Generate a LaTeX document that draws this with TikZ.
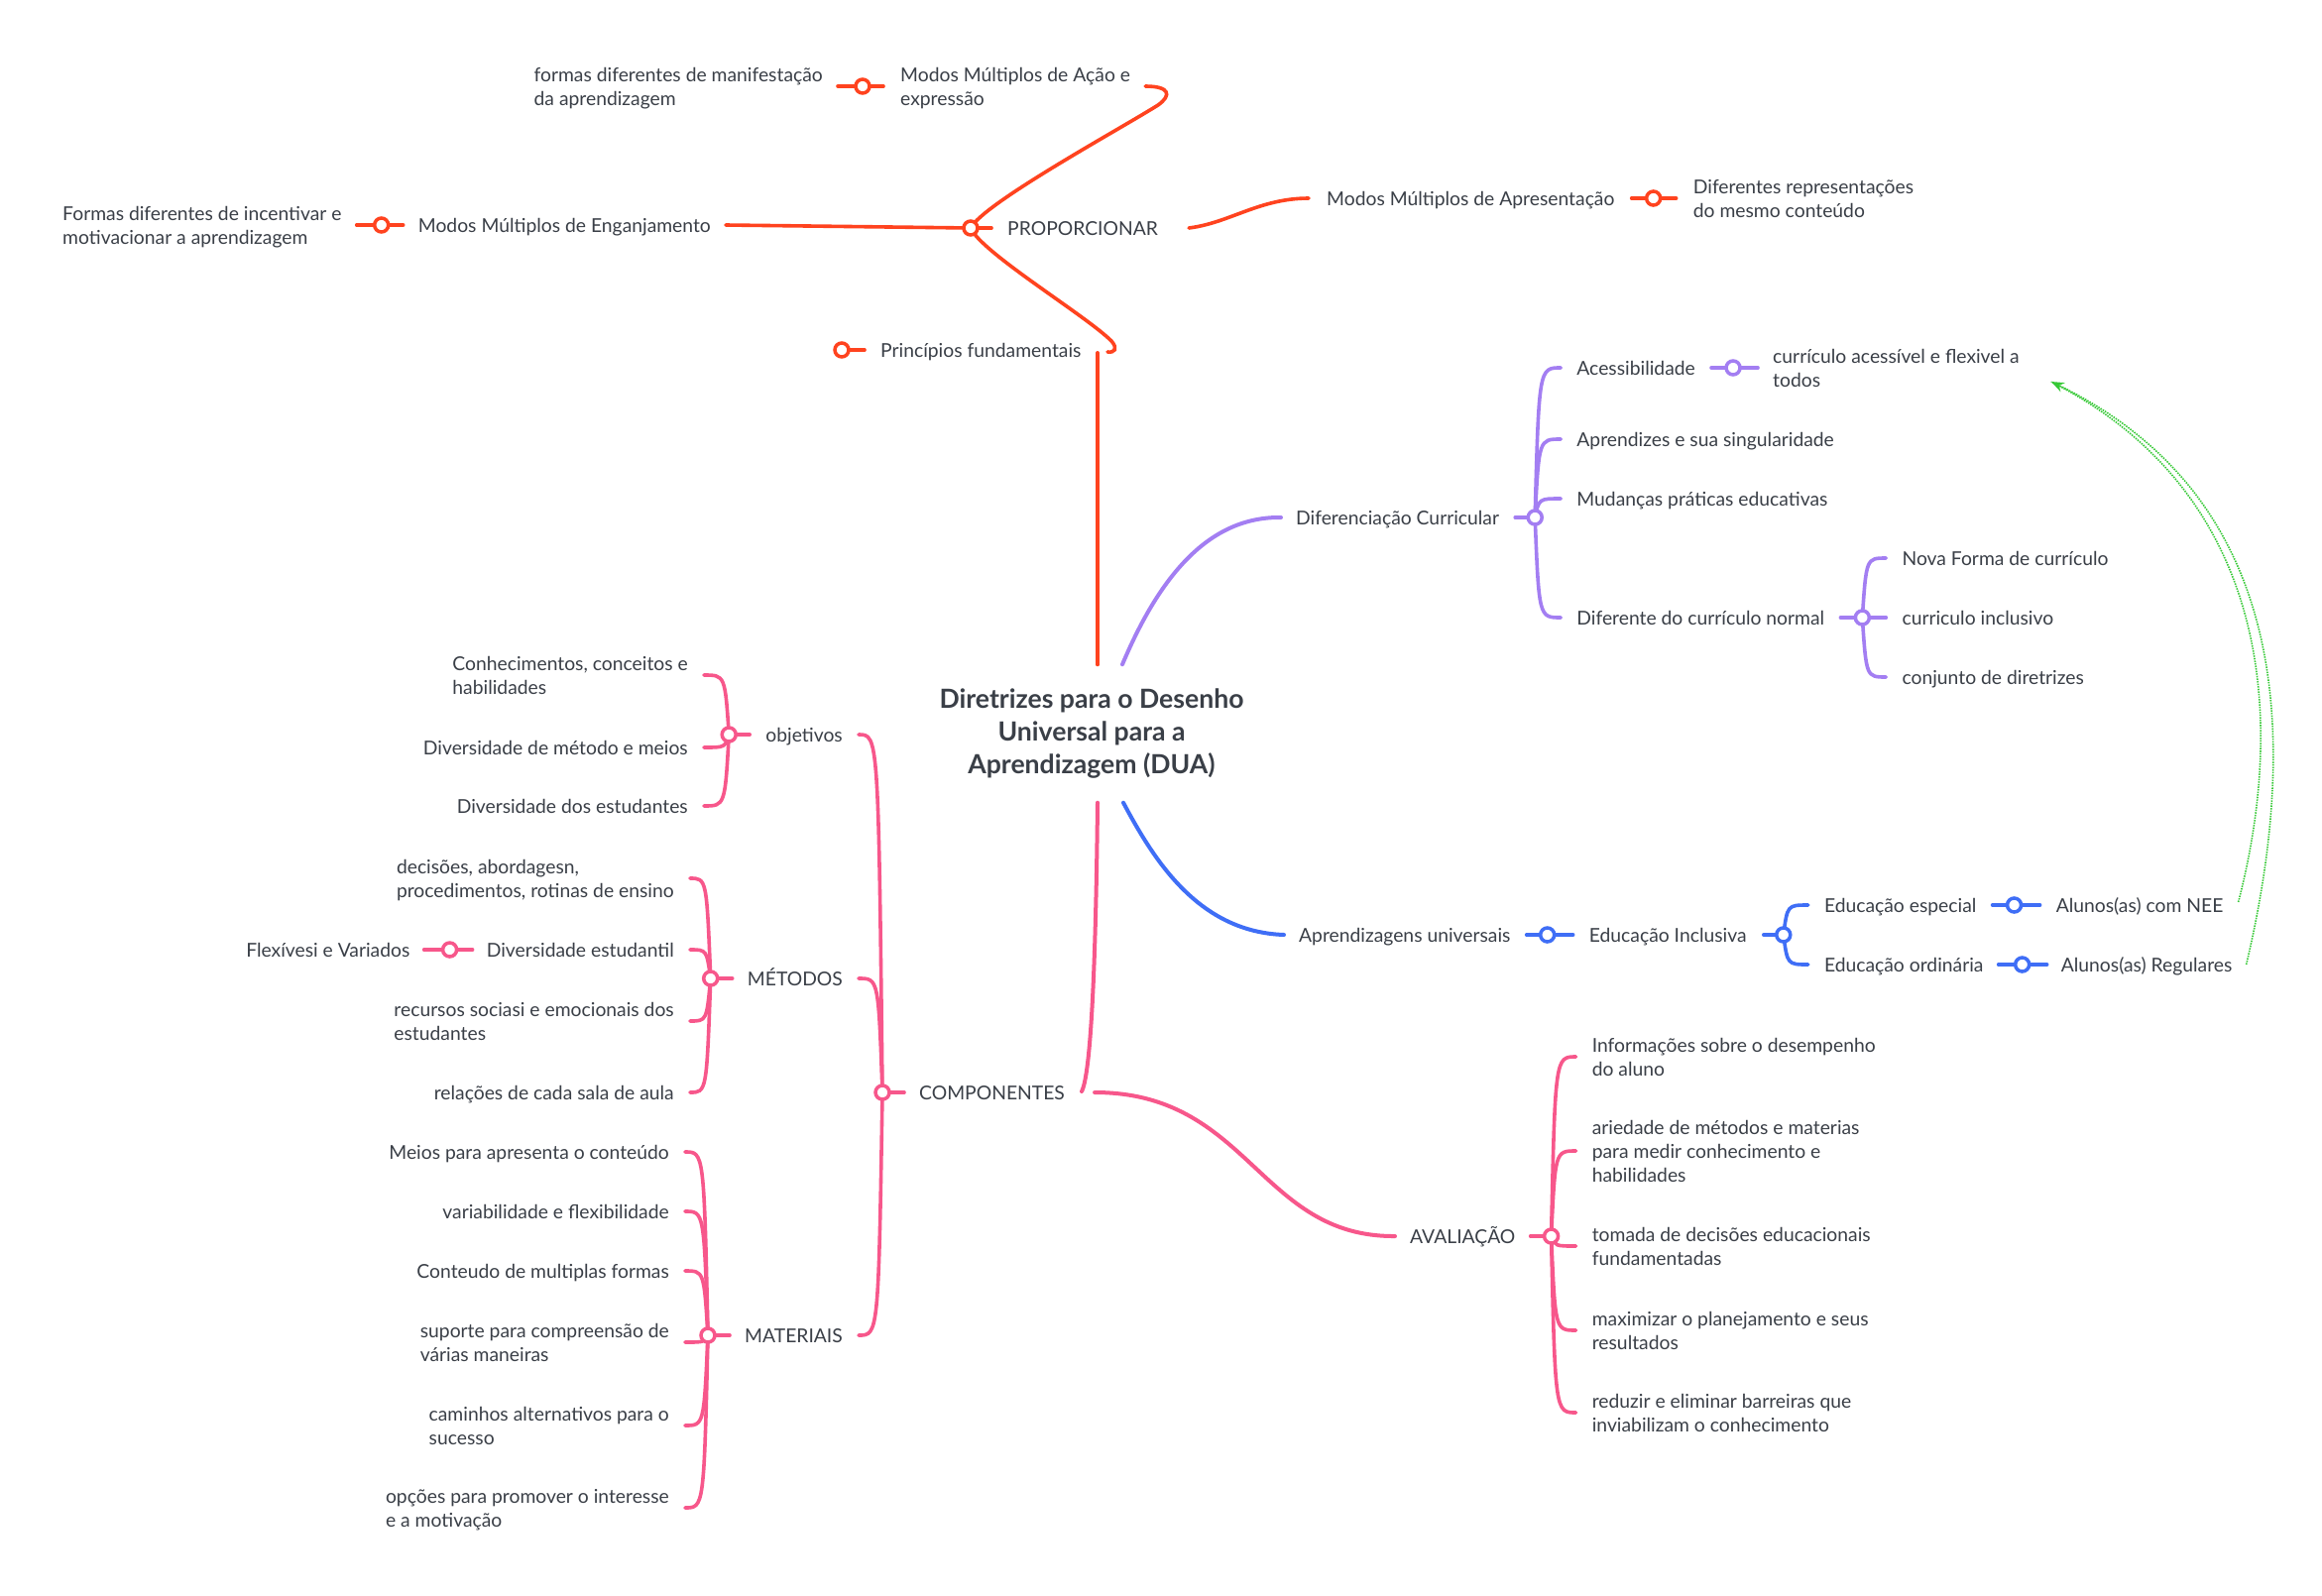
\documentclass[tikz,border=0pt]{standalone}
\usepackage{fontspec}
\setmainfont{Lato}
\usetikzlibrary{calc,arrows.meta}
\definecolor{cred}{HTML}{FF431F}
\definecolor{cpur}{HTML}{A37EF2}
\definecolor{cblue}{HTML}{3F6EF6}
\definecolor{cpink}{HTML}{F7578B}
\definecolor{cgreen}{HTML}{36C936}
\definecolor{ctext}{HTML}{3A3F47}
\pgfdeclarelayer{bg}
\pgfdeclarelayer{lines}
\pgfsetlayers{bg,lines,main}
\newcommand\st{\rule{0pt}{21.8pt}}
\newcommand\sd{\rule[-7.2pt]{0pt}{7.2pt}}
\newcommand\brL[3]{\draw[subl,#3] (#1.center) .. controls ($(#1.center |- #2.east)+(-4,0)$) and ($(#1.center |- #2.east)+(-4,0)$) .. ($(#2.east)+(16,0)$);}
\newcommand\brR[3]{\draw[subl,#3] (#1.center) .. controls ($(#1.center |- #2.west)+(4,0)$) and ($(#1.center |- #2.west)+(4,0)$) .. ($(#2.west)+(-16,0)$);}
\begin{document}
\begin{tikzpicture}[x=1pt,y=-1pt,
 lbl/.style={inner sep=0pt, font=\fontsize{19.3}{24}\selectfont, text=ctext, align=left},
 rt/.style={lbl, anchor=west},
 lt/.style={lbl, anchor=east},
 knob/.style={circle, fill=white, line width=3.5pt, minimum size=14pt, inner sep=0pt},
 mainl/.style={line width=4pt, line cap=round},
 subl/.style={line width=3.6pt, line cap=round},
 greenl/.style={cgreen, line width=1.6pt, dash pattern=on 1.5pt off 1.1pt}]
\begin{pgfonlayer}{bg}
\fill[white] (0,0) rectangle (2342,1609);
\end{pgfonlayer}
\useasboundingbox (0,0) rectangle (2342,1609);

% root
\node[font=\fontsize{26.6}{33}\selectfont\bfseries, text=ctext, align=center, inner sep=0pt, minimum height=139pt] (root) at (1101,740) {Diretrizes para o Desenho\\Universal para a\\Aprendizagem (DUA)};

% ---------- red branch
\node[rt] (princ) at (888,353) {\st Princípios fundamentais\sd};
\node[knob, draw=cred] (kprinc) at ([xshift=-39]princ.west) {};
\node[rt] (prop) at (1016,230) {\st PROPORCIONAR\sd};
\node[knob, draw=cred] (kprop) at ([xshift=-37]prop.west) {};
\node[rt] (acao) at (908,87) {\st Modos Múltiplos de Ação e\\expressão\sd};
\node[knob, draw=cred] (kacao) at ([xshift=-38]acao.west) {};
\node[lt] (manif) at ([xshift=-40]kacao.center) {\st formas diferentes de manifestação\\da aprendizagem\sd};
\node[lt] (engaj) at (717,227) {\st Modos Múltiplos de Enganjamento\sd};
\node[knob, draw=cred] (kengaj) at ([xshift=-37]engaj.west) {};
\node[lt] (incent) at ([xshift=-40]kengaj.center) {\st Formas diferentes de incentivar e\\motivacionar a aprendizagem\sd};
\node[rt] (apres) at (1338,200) {\st Modos Múltiplos de Apresentação\sd};
\node[knob, draw=cred] (kapres) at ([xshift=39]apres.east) {};
\node[rt] (difrep) at ([xshift=40]kapres.center) {\st Diferentes representações\\do mesmo conteúdo\sd};

% ---------- purple branch
\node[rt] (difcur) at (1307,522) {\st Diferenciação Curricular\sd};
\node[knob, draw=cpur] (kdif) at ([xshift=36]difcur.east) {};
\node[rt] (acess) at ($(kdif.center)+(42,-151)$) {\st Acessibilidade\sd};
\node[knob, draw=cpur] (kacess) at ([xshift=38]acess.east) {};
\node[rt] (curac) at ([xshift=40]kacess.center) {\st currículo acessível e flexivel a\\todos\sd};
\node[rt] (aprz) at ($(kdif.center)+(42,-79)$) {\st Aprendizes e sua singularidade\sd};
\node[rt] (mudp) at ($(kdif.center)+(42,-19)$) {\st Mudanças práticas educativas\sd};
\node[rt] (difn) at ($(kdif.center)+(42,101)$) {\st Diferente do currículo normal\sd};
\node[knob, draw=cpur] (kdifn) at ([xshift=38]difn.east) {};
\node[rt] (nova) at ($(kdifn.center)+(40,-60)$) {\st Nova Forma de currículo\sd};
\node[rt] (cincl) at ($(kdifn.center)+(40,0)$) {\st curriculo inclusivo\sd};
\node[rt] (conj) at ($(kdifn.center)+(40,60)$) {\st conjunto de diretrizes\sd};

% ---------- blue branch
\node[rt] (apu) at (1310,943) {\st Aprendizagens universais\sd};
\node[knob, draw=cblue] (kapu) at ([xshift=37]apu.east) {};
\node[rt] (edinc) at ([xshift=42]kapu.center) {\st Educação Inclusiva\sd};
\node[knob, draw=cblue] (kedinc) at ([xshift=37]edinc.east) {};
\node[rt] (edesp) at ($(kedinc.center)+(41,-30)$) {\st Educação especial\sd};
\node[rt] (edord) at ($(kedinc.center)+(41,30)$) {\st Educação ordinária\sd};
\node[knob, draw=cblue] (kesp) at ([xshift=38]edesp.east) {};
\node[knob, draw=cblue] (kord) at ([xshift=39]edord.east) {};
\node[rt] (nee) at ([xshift=42]kesp.center) {\st Alunos(as) com NEE\sd};
\node[rt] (reg) at ([xshift=39]kord.center) {\st Alunos(as) Regulares\sd};

% ---------- pink branch
\node[rt] (comp) at (927,1102) {\st COMPONENTES\sd};
\node[knob, draw=cpink] (kcomp) at ([xshift=-37]comp.west) {};
\node[lt] (obj) at (850,741) {\st objetivos\sd};
\node[lt] (met) at (850,987) {\st MÉTODOS\sd};
\node[lt] (mat) at (850,1347) {\st MATERIAIS\sd};
\node[knob, draw=cpink] (kobj) at ([xshift=-37]obj.west) {};
\node[knob, draw=cpink] (kmet) at ([xshift=-37]met.west) {};
\node[knob, draw=cpink] (kmat) at ([xshift=-37]mat.west) {};
\node[lt] (o1) at (694,681) {\st Conhecimentos, conceitos e\\habilidades\sd};
\node[lt] (o2) at (694,754) {\st Diversidade de método e meios\sd};
\node[lt] (o3) at (694,813) {\st Diversidade dos estudantes\sd};
\node[lt] (m1) at (680,886) {\st decisões, abordagesn,\\procedimentos, rotinas de ensino\sd};
\node[lt] (m2) at (680,958) {\st Diversidade estudantil\sd};
\node[knob, draw=cpink] (km2) at ([xshift=-37]m2.west) {};
\node[lt] (m2a) at ([xshift=-40]km2.center) {\st Flexívesi e Variados\sd};
\node[lt] (m3) at (680,1030) {\st recursos sociasi e emocionais dos\\estudantes\sd};
\node[lt] (m4) at (680,1102) {\st relações de cada sala de aula\sd};
\node[lt] (t1) at (675,1162) {\st Meios para apresenta o conteúdo\sd};
\node[lt] (t2) at (675,1222) {\st variabilidade e flexibilidade\sd};
\node[lt] (t3) at (675,1282) {\st Conteudo de multiplas formas\sd};
\node[lt] (t4) at (675,1354) {\st suporte para compreensão de\\várias maneiras\sd};
\node[lt] (t5) at (675,1438) {\st caminhos alternativos para o\\sucesso\sd};
\node[lt] (t6) at (675,1521) {\st opções para promover o interesse\\e a motivação\sd};
\node[rt] (aval) at (1422,1247) {\st AVALIAÇÃO\sd};
\node[knob, draw=cpink] (kaval) at ([xshift=36]aval.east) {};
\node[rt] (av1) at ($(kaval.center)+(41,-181)$) {\st Informações sobre o desempenho\\do aluno\sd};
\node[rt] (av2) at ($(kaval.center)+(41,-86)$) {\st ariedade de métodos e materias\\para medir conhecimento e\\habilidades\sd};
\node[rt] (av3) at ($(kaval.center)+(41,10)$) {\st tomada de decisões educacionais\\fundamentadas\sd};
\node[rt] (av4) at ($(kaval.center)+(41,95)$) {\st maximizar o planejamento e seus\\resultados\sd};
\node[rt] (av5) at ($(kaval.center)+(41,178)$) {\st reduzir e eliminar barreiras que\\inviabilizam o conhecimento\sd};

% ================= connectors
\begin{pgfonlayer}{lines}
% red
\draw[mainl,cred] ($(root.north)+(6,0)$) -- ($(root.north |- princ.east)+(6,3)$);
\draw[subl,cred] (kprop.center) .. controls (990,255) and (1095,318) .. (1121,344) .. controls (1128,352) and (1124,356) .. ($(root.north |- princ.east)+(16,2)$);
\draw[subl,cred] (kprinc.center) -- +(23,0);
\draw[subl,cred] (kprop.center) -- +(21,0);
\draw[subl,cred] (kprop.center) -- ($(engaj.east)+(15,0)$);
\draw[subl,cred] (kprop.center) .. controls (992,205) and (1130,130) .. (1168,106) .. controls (1182,96) and (1180,87) .. ($(acao.east)+(15,0)$);
\draw[subl,cred] ($(prop.east)+(31,0)$) .. controls (1240,225) and (1270,200) .. ($(apres.west)+(-18,0)$);
\draw[subl,cred] ($(kacao.center)+(-25,0)$) -- ($(kacao.center)+(21,0)$);
\draw[subl,cred] ($(kengaj.center)+(-25,0)$) -- ($(kengaj.center)+(22,0)$);
\draw[subl,cred] ($(kapres.center)+(-22,0)$) -- ($(kapres.center)+(23,0)$);
% purple
\draw[mainl,cpur] ($(root.north)+(31,0)$) .. controls (1170,580) and (1220,521) .. ($(difcur.west)+(-15,0)$);
\draw[subl,cpur] (kdif.center) -- +(-20,0);
\brR{kdif}{acess}{cpur}
\brR{kdif}{aprz}{cpur}
\brR{kdif}{mudp}{cpur}
\brR{kdif}{difn}{cpur}
\draw[subl,cpur] ($(kacess.center)+(-22,0)$) -- ($(kacess.center)+(25,0)$);
\draw[subl,cpur] (kdifn.center) -- +(-22,0);
\brR{kdifn}{nova}{cpur}
\brR{kdifn}{cincl}{cpur}
\brR{kdifn}{conj}{cpur}
% blue
\draw[mainl,cblue] ($(root.south)+(32,0)$) .. controls (1165,870) and (1210,940) .. ($(apu.west)+(-15,0)$);
\draw[subl,cblue] ($(kapu.center)+(-21,0)$) -- ($(kapu.center)+(26,0)$);
\draw[subl,cblue] (kedinc.center) -- +(-20,0);
\brR{kedinc}{edesp}{cblue}
\brR{kedinc}{edord}{cblue}
\draw[subl,cblue] ($(kesp.center)+(-22,0)$) -- ($(kesp.center)+(26,0)$);
\draw[subl,cblue] ($(kord.center)+(-24,0)$) -- ($(kord.center)+(25,0)$);
% green
\draw[greenl] ($(nee.east)+(15,-3)$) .. controls (2312,700) and (2275,490) .. ($(curac.east)+(32,14)$);
\draw[greenl,-{Stealth[length=13pt,width=10pt]}] ($(reg.east)+(14,0)$) .. controls (2330,700) and (2285,490) .. ($(curac.east)+(32,14)$);
% pink
\draw[mainl,cpink] ($(root.south)+(6,0)$) .. controls (1105,1000) and (1099,1085) .. ($(comp.east)+(17,-1)$);
\draw[mainl,cpink] ($(comp.east)+(30,0)$) .. controls (1260,1102) and (1270,1248) .. ($(aval.west)+(-15,0)$);
\draw[subl,cpink] (kcomp.center) -- +(22,0);
\brL{kcomp}{obj}{cpink}
\brL{kcomp}{met}{cpink}
\brL{kcomp}{mat}{cpink}
\draw[subl,cpink] (kobj.center) -- +(21,0);
\draw[subl,cpink] (kmet.center) -- +(22,0);
\draw[subl,cpink] (kmat.center) -- +(22,0);
\brL{kobj}{o1}{cpink}
\brL{kobj}{o2}{cpink}
\brL{kobj}{o3}{cpink}
\brL{kmet}{m1}{cpink}
\brL{kmet}{m2}{cpink}
\brL{kmet}{m3}{cpink}
\brL{kmet}{m4}{cpink}
\draw[subl,cpink] ($(km2.center)+(-26,0)$) -- ($(km2.center)+(23,0)$);
\brL{kmat}{t1}{cpink}
\brL{kmat}{t2}{cpink}
\brL{kmat}{t3}{cpink}
\brL{kmat}{t4}{cpink}
\brL{kmat}{t5}{cpink}
\brL{kmat}{t6}{cpink}
\draw[subl,cpink] (kaval.center) -- +(-21,0);
\brR{kaval}{av1}{cpink}
\brR{kaval}{av2}{cpink}
\brR{kaval}{av3}{cpink}
\brR{kaval}{av4}{cpink}
\brR{kaval}{av5}{cpink}
\end{pgfonlayer}
\end{tikzpicture}
\end{document}
